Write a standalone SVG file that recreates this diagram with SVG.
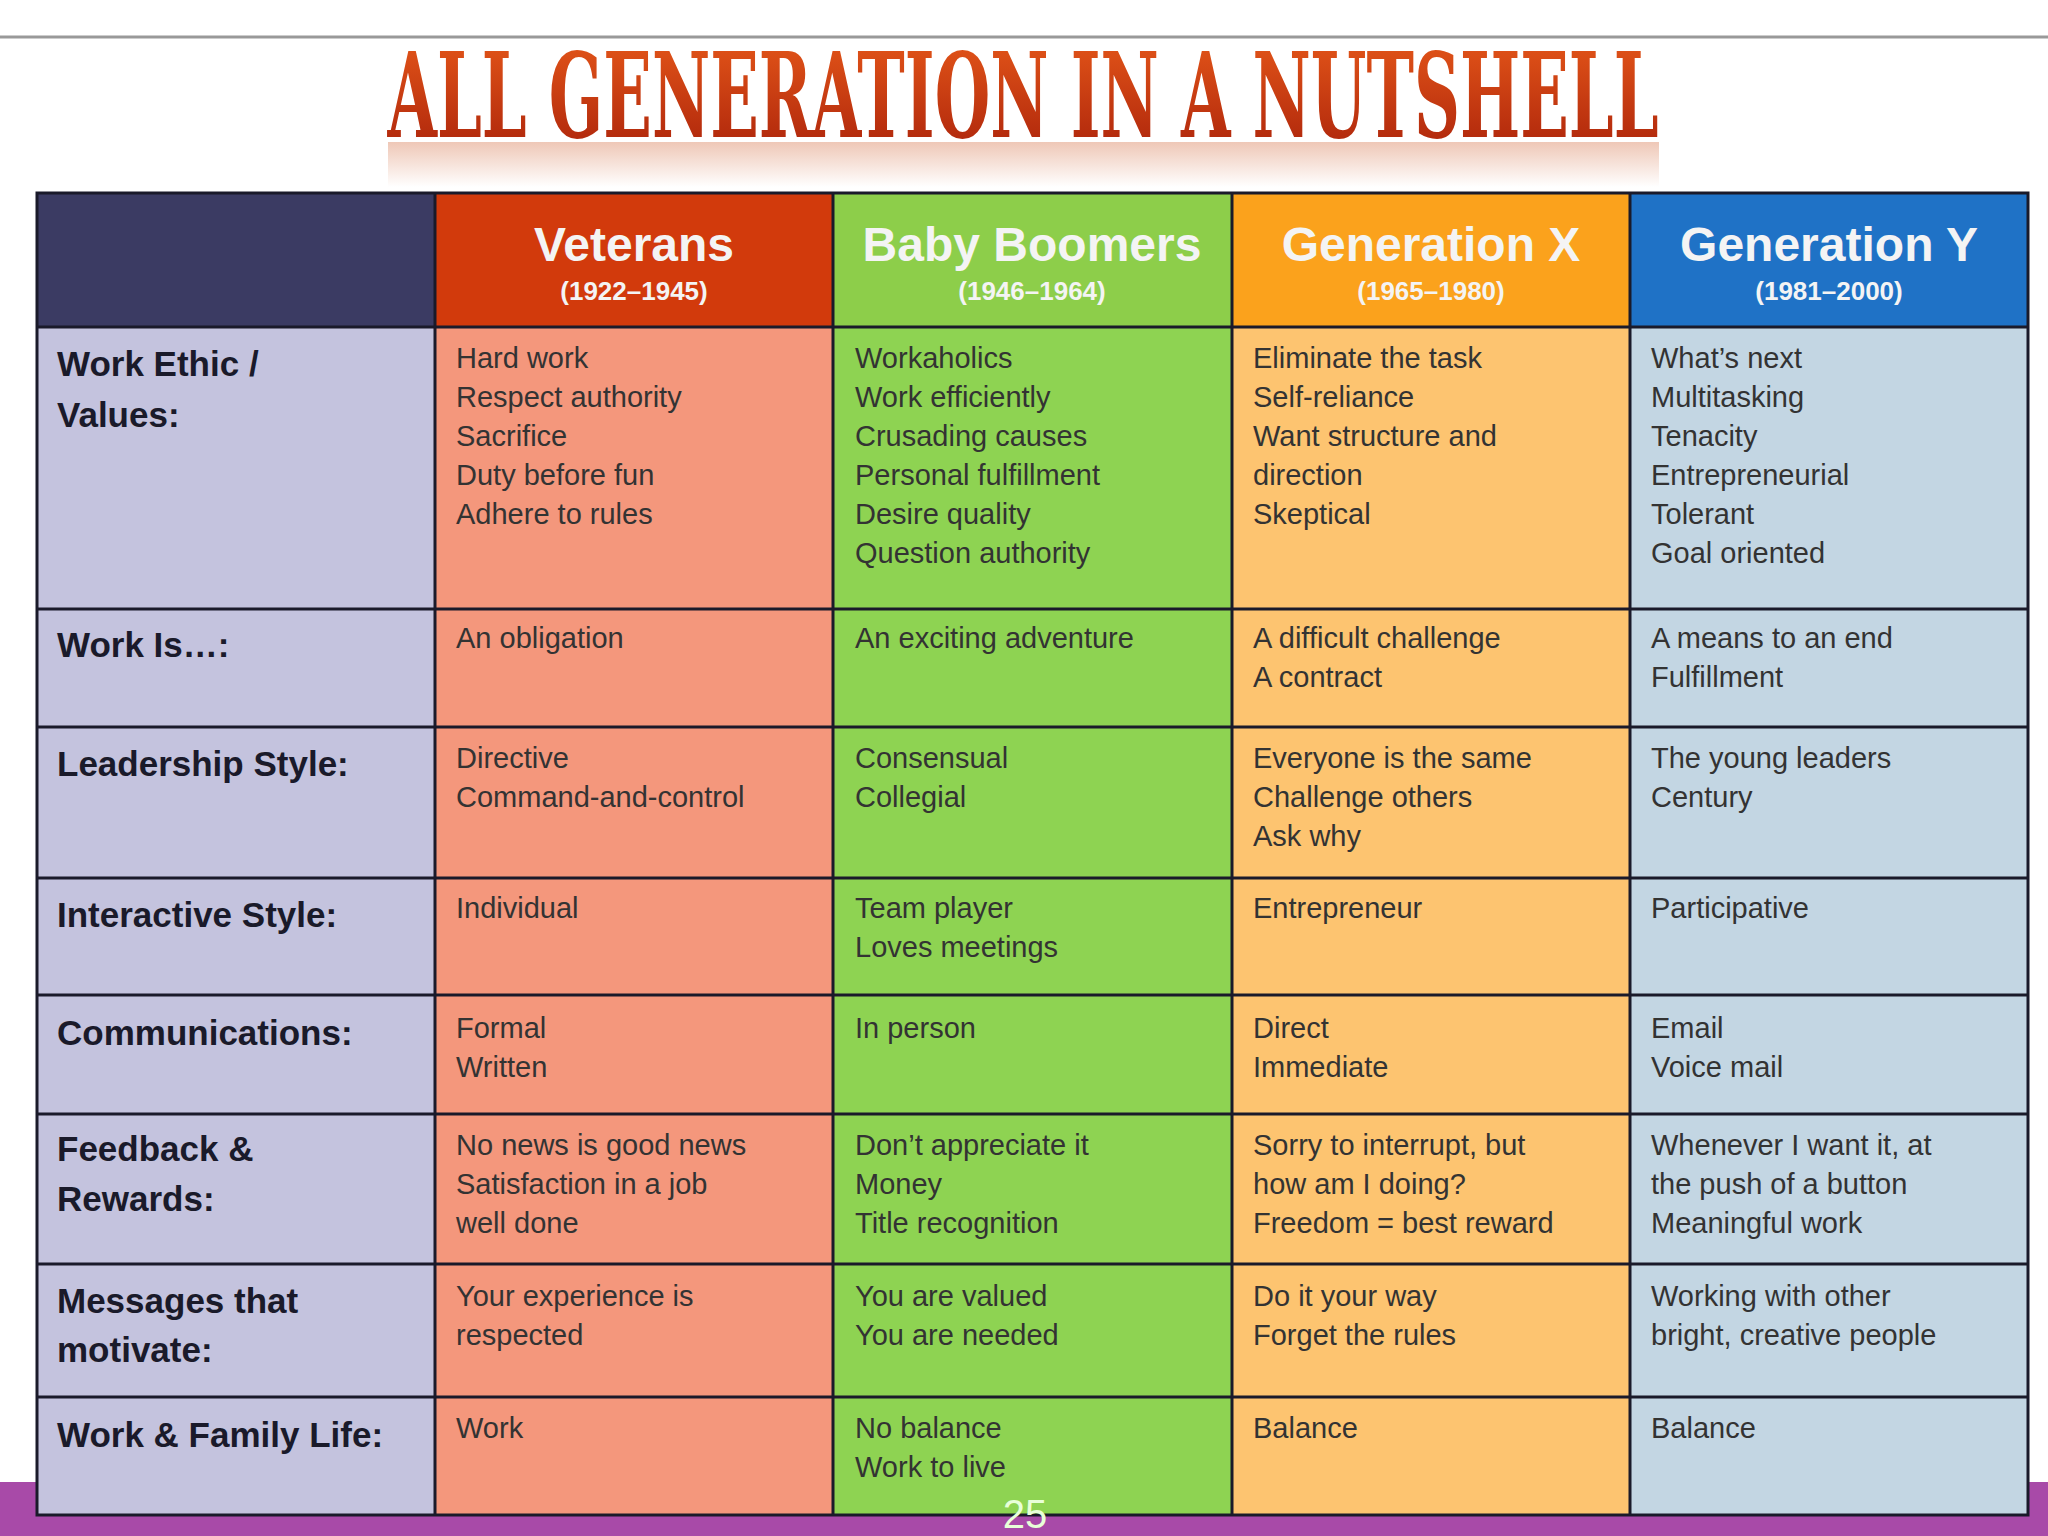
<svg xmlns="http://www.w3.org/2000/svg" width="2048" height="1536" viewBox="0 0 2048 1536">
<defs>
<linearGradient id="tg" x1="0" y1="0" x2="0" y2="1"><stop offset="0" stop-color="#e85a1a"/><stop offset="1" stop-color="#a8200a"/></linearGradient>
<linearGradient id="rg" x1="0" y1="0" x2="0" y2="1"><stop offset="0" stop-color="#d06030" stop-opacity="0.35"/><stop offset="1" stop-color="#d06030" stop-opacity="0"/></linearGradient>
</defs>
<style>
.t{font-family:"Liberation Sans",Arial,sans-serif;font-size:29px;fill:#333}
.l{font-family:"Liberation Sans",Arial,sans-serif;font-size:35px;font-weight:bold;fill:#1a1a2a}
.h{font-family:"Liberation Sans",Arial,sans-serif;font-size:48px;font-weight:bold;fill:#f4f4f4;text-anchor:middle}
.y{font-family:"Liberation Sans",Arial,sans-serif;font-size:26px;font-weight:bold;fill:#f4f4f4;text-anchor:middle}
.g{stroke:#1a1a2a;stroke-width:3;fill:none}
</style>
<rect width="2048" height="1536" fill="#fff"/>
<rect x="0" y="1482" width="2048" height="54" fill="#a84aa8"/>
<line x1="0" y1="37" x2="2048" y2="37" stroke="#999" stroke-width="3"/>
<g id="title">
<text x="1023" y="137" text-anchor="middle" font-family="DejaVu Serif Condensed,Liberation Serif,serif" font-weight="bold" font-size="118" fill="url(#tg)" textLength="1271" lengthAdjust="spacingAndGlyphs">ALL GENERATION IN A NUTSHELL</text>
<rect x="388" y="142" width="1271" height="45" fill="url(#rg)"/>
</g>
<g id="headers">
<rect x="37" y="193" width="398" height="134" fill="#3b3b63"/>
<rect x="435" y="193" width="398" height="134" fill="#d23a0c"/>
<rect x="833" y="193" width="399" height="134" fill="#8dce4a"/>
<rect x="1232" y="193" width="398" height="134" fill="#fba21c"/>
<rect x="1630" y="193" width="398" height="134" fill="#1f72c6"/>
<text class="h" x="634" y="261">Veterans</text><text class="y" x="634" y="300">(1922–1945)</text>
<text class="h" x="1032" y="261">Baby Boomers</text><text class="y" x="1032" y="300">(1946–1964)</text>
<text class="h" x="1431" y="261">Generation X</text><text class="y" x="1431" y="300">(1965–1980)</text>
<text class="h" x="1829" y="261">Generation Y</text><text class="y" x="1829" y="300">(1981–2000)</text>
</g>
<g id="body">
<rect x="37" y="327" width="398" height="1188" fill="#c4c3de"/>
<rect x="435" y="327" width="398" height="1188" fill="#f4977c"/>
<rect x="833" y="327" width="399" height="1188" fill="#8ed352"/>
<rect x="1232" y="327" width="398" height="1188" fill="#fdc470"/>
<rect x="1630" y="327" width="398" height="1188" fill="#c3d6e3"/>
</g>
<g id="grid">
<rect class="g" x="37" y="193" width="1991" height="1322"/>
<path class="g" d="M435 193V1515M833 193V1515M1232 193V1515M1630 193V1515M37 327H2028M37 609H2028M37 727H2028M37 878H2028M37 995H2028M37 1114H2028M37 1264H2028M37 1397H2028"/>
</g>
<g id="labels">
<text class="l" x="57" y="376">Work Ethic /</text><text class="l" x="57" y="427">Values:</text>
<text class="l" x="57" y="657">Work Is…:</text>
<text class="l" x="57" y="776">Leadership Style:</text>
<text class="l" x="57" y="927">Interactive Style:</text>
<text class="l" x="57" y="1045">Communications:</text>
<text class="l" x="57" y="1161">Feedback &amp;</text><text class="l" x="57" y="1211">Rewards:</text>
<text class="l" x="57" y="1313">Messages that</text><text class="l" x="57" y="1362">motivate:</text>
<text class="l" x="57" y="1447">Work &amp; Family Life:</text>
</g>
<g id="veterans">
<text class="t" x="456" y="368">Hard work<tspan x="456" dy="39">Respect authority</tspan><tspan x="456" dy="39">Sacrifice</tspan><tspan x="456" dy="39">Duty before fun</tspan><tspan x="456" dy="39">Adhere to rules</tspan></text>
<text class="t" x="456" y="648">An obligation</text>
<text class="t" x="456" y="768">Directive<tspan x="456" dy="39">Command-and-control</tspan></text>
<text class="t" x="456" y="918">Individual</text>
<text class="t" x="456" y="1038">Formal<tspan x="456" dy="39">Written</tspan></text>
<text class="t" x="456" y="1155">No news is good news<tspan x="456" dy="39">Satisfaction in a job</tspan><tspan x="456" dy="39">well done</tspan></text>
<text class="t" x="456" y="1306">Your experience is<tspan x="456" dy="39">respected</tspan></text>
<text class="t" x="456" y="1438">Work</text>
</g>
<g id="boomers">
<text class="t" x="855" y="368">Workaholics<tspan x="855" dy="39">Work efficiently</tspan><tspan x="855" dy="39">Crusading causes</tspan><tspan x="855" dy="39">Personal fulfillment</tspan><tspan x="855" dy="39">Desire quality</tspan><tspan x="855" dy="39">Question authority</tspan></text>
<text class="t" x="855" y="648">An exciting adventure</text>
<text class="t" x="855" y="768">Consensual<tspan x="855" dy="39">Collegial</tspan></text>
<text class="t" x="855" y="918">Team player<tspan x="855" dy="39">Loves meetings</tspan></text>
<text class="t" x="855" y="1038">In person</text>
<text class="t" x="855" y="1155">Don’t appreciate it<tspan x="855" dy="39">Money</tspan><tspan x="855" dy="39">Title recognition</tspan></text>
<text class="t" x="855" y="1306">You are valued<tspan x="855" dy="39">You are needed</tspan></text>
<text class="t" x="855" y="1438">No balance<tspan x="855" dy="39">Work to live</tspan></text>
</g>
<g id="genx">
<text class="t" x="1253" y="368">Eliminate the task<tspan x="1253" dy="39">Self-reliance</tspan><tspan x="1253" dy="39">Want structure and</tspan><tspan x="1253" dy="39">direction</tspan><tspan x="1253" dy="39">Skeptical</tspan></text>
<text class="t" x="1253" y="648">A difficult challenge<tspan x="1253" dy="39">A contract</tspan></text>
<text class="t" x="1253" y="768">Everyone is the same<tspan x="1253" dy="39">Challenge others</tspan><tspan x="1253" dy="39">Ask why</tspan></text>
<text class="t" x="1253" y="918">Entrepreneur</text>
<text class="t" x="1253" y="1038">Direct<tspan x="1253" dy="39">Immediate</tspan></text>
<text class="t" x="1253" y="1155">Sorry to interrupt, but<tspan x="1253" dy="39">how am I doing?</tspan><tspan x="1253" dy="39">Freedom = best reward</tspan></text>
<text class="t" x="1253" y="1306">Do it your way<tspan x="1253" dy="39">Forget the rules</tspan></text>
<text class="t" x="1253" y="1438">Balance</text>
</g>
<g id="geny">
<text class="t" x="1651" y="368">What’s next<tspan x="1651" dy="39">Multitasking</tspan><tspan x="1651" dy="39">Tenacity</tspan><tspan x="1651" dy="39">Entrepreneurial</tspan><tspan x="1651" dy="39">Tolerant</tspan><tspan x="1651" dy="39">Goal oriented</tspan></text>
<text class="t" x="1651" y="648">A means to an end<tspan x="1651" dy="39">Fulfillment</tspan></text>
<text class="t" x="1651" y="768">The young leaders<tspan x="1651" dy="39">Century</tspan></text>
<text class="t" x="1651" y="918">Participative</text>
<text class="t" x="1651" y="1038">Email<tspan x="1651" dy="39">Voice mail</tspan></text>
<text class="t" x="1651" y="1155">Whenever I want it, at<tspan x="1651" dy="39">the push of a button</tspan><tspan x="1651" dy="39">Meaningful work</tspan></text>
<text class="t" x="1651" y="1306">Working with other<tspan x="1651" dy="39">bright, creative people</tspan></text>
<text class="t" x="1651" y="1438">Balance</text>
</g>
<text x="1025" y="1528" text-anchor="middle" font-family="Liberation Sans,sans-serif" font-size="40" fill="#e8ffd8">25</text>
</svg>
